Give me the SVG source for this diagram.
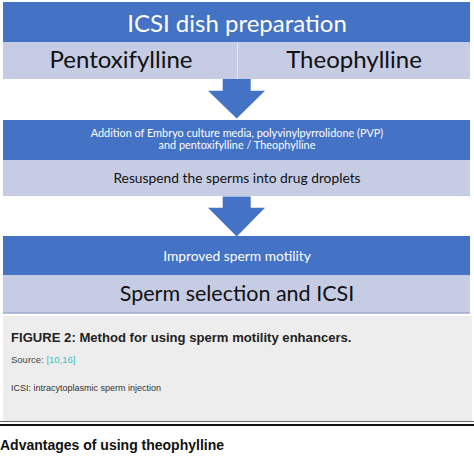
<svg xmlns="http://www.w3.org/2000/svg" width="474" height="463" viewBox="0 0 474 463">
<style>
.dark{fill:#4472C4}
.light{fill:#C5CCE4}
.cal{font-family:Lato,"Open Sans","Liberation Sans",sans-serif}
.w{fill:#ffffff}
.k{fill:#111111}
.arr{fill:#4472C4}
.cap{font-family:"Liberation Sans",Arial,sans-serif}
</style>
<rect x="0" y="0" width="474" height="463" fill="#ffffff"/>
<g id="header">
<rect class="dark" x="3" y="2" width="467" height="40"/>
<text class="cal w" x="237" y="32" font-size="24" text-anchor="middle">ICSI dish preparation</text>
</g>
<g id="pentoxifylline">
<rect class="light" x="3" y="42" width="234" height="37"/>
<text class="cal k" x="121" y="68" font-size="24" text-anchor="middle">Pentoxifylline</text>
</g>
<g id="theophylline">
<rect class="light" x="237.5" y="42" width="232.5" height="37"/>
<text class="cal k" x="354" y="68" font-size="24" text-anchor="middle">Theophylline</text>
</g>
<g id="addition">
<rect class="dark" x="3" y="120" width="467" height="40"/>
<text class="cal w" x="237" y="137" font-size="10.9" text-anchor="middle">Addition of Embryo culture media, polyvinylpyrrolidone (PVP)</text>
<text class="cal w" x="237" y="149" font-size="10.9" text-anchor="middle">and pentoxifylline / Theophylline</text>
</g>
<g id="resuspend">
<rect class="light" x="3" y="160" width="467" height="36"/>
<text class="cal k" x="237" y="183" font-size="13.8" text-anchor="middle">Resuspend the sperms into drug droplets</text>
</g>
<g id="improved">
<rect class="dark" x="3" y="236" width="467" height="39"/>
<text class="cal w" x="237" y="261" font-size="13.8" text-anchor="middle">Improved sperm motility</text>
</g>
<g id="selection">
<rect class="light" x="3" y="275" width="467" height="38"/>
<line x1="3" y1="313" x2="470" y2="313" stroke="#9EA9CE" stroke-width="1.5"/>
<text class="cal k" x="237" y="301" font-size="21.5" text-anchor="middle">Sperm selection and ICSI</text>
</g>
<g id="connectors">
<polygon class="arr" points="222.7,79 250.7,79 250.7,90.7 265,90.7 236.7,118.5 208,90.7 222.7,90.7"/>
<polygon class="arr" points="222.7,196.5 250.7,196.5 250.7,207.7 265,207.7 236.7,236.5 208,207.7 222.7,207.7"/>
</g>
<g id="caption">
<rect x="3" y="316" width="469" height="105" fill="#EDEDED"/>
<text class="cap" x="11" y="342" font-size="13.1" font-weight="bold" fill="#222222">FIGURE 2: Method for using sperm motility enhancers.</text>
<text class="cap" x="11" y="363" font-size="9.5" fill="#444444">Source: <tspan fill="#3CC0C0">[10,16]</tspan></text>
<text class="cap" x="11" y="391" font-size="9" fill="#333333">ICSI: intracytoplasmic sperm injection</text>
</g>
<line x1="0" y1="421.5" x2="474" y2="421.5" stroke="#666666" stroke-width="1"/>
<line x1="0" y1="425" x2="474" y2="425" stroke="#111111" stroke-width="2"/>
<text class="cap" x="0" y="450" font-size="14" font-weight="bold" fill="#111111">Advantages of using theophylline</text>
</svg>
